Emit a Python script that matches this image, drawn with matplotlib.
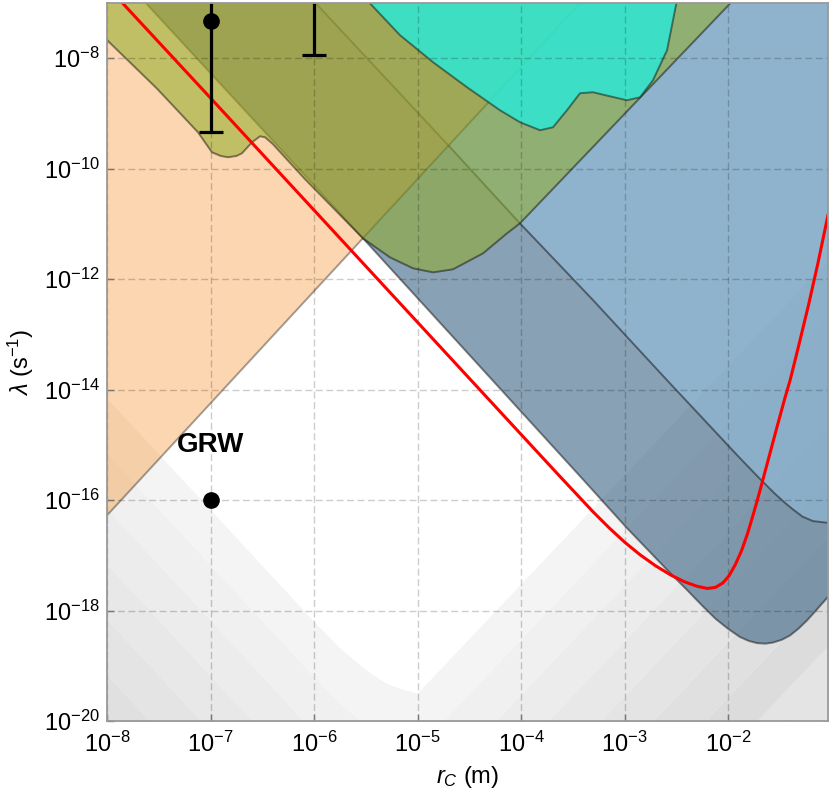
import numpy as np
import matplotlib
matplotlib.use("Agg")
import matplotlib.pyplot as plt
from matplotlib.ticker import FixedLocator, FixedFormatter, NullLocator

plt.rcParams['font.family'] = ['Liberation Sans', 'DejaVu Sans']
plt.rcParams['mathtext.fontset'] = 'custom'
plt.rcParams['mathtext.rm'] = 'Liberation Sans'
plt.rcParams['mathtext.it'] = 'Liberation Sans:italic'
plt.rcParams['mathtext.bf'] = 'Liberation Sans:bold'

# ---------------- data (log10 values) ----------------
x_tick_exp = [-8, -7, -6, -5, -4, -3, -2]
y_tick_exp = [-20, -18, -16, -14, -12, -10, -8]

# theoretical lower bound (grey, striped)
lower_log_r = [-8.05, -7.459, -6.01, -5.75, -5.488, -5.30, -5.169, -5.005, -1.0]
lower_log_lam = [-14.06, -15.25, -18.18, -18.68, -19.09, -19.32, -19.41, -19.50, -11.58]
band_shifts = [0, 1, 2, 3, 4, 5, 6, 7, 30]
band_grays = [0.957, 0.941, 0.925, 0.909, 0.893, 0.877, 0.861, 0.895]

# X-ray bound (orange)
xray_log_r = [-8.1, -3.3]
xray_log_lam = [-16.48, -6.74]

# LISA Pathfinder-like bound (dark blue-grey)
lisa_log_r = [-7.872, -5.527, -3.40, -2.98, -2.56, -2.40, -2.24, -2.12, -2.00, -1.884,
              -1.80, -1.72, -1.64, -1.565, -1.48, -1.40, -1.32, -1.237, -1.15, -1.0]
lisa_log_lam = [-6.50, -11.26, -15.63, -16.50, -17.32, -17.62, -17.93, -18.15, -18.33, -18.48,
                -18.55, -18.59, -18.60, -18.58, -18.53, -18.45, -18.33, -18.18, -18.00, -17.68]

# light blue bound
blue_log_r = [-6.10, -4.686, -4.01, -3.304, -2.589, -1.90, -1.70, -1.55, -1.45,
              -1.372, -1.28, -1.18, -1.0]
blue_log_lam = [-6.77, -9.61, -10.99, -12.38, -13.83, -15.21, -15.60, -15.88, -16.05,
                -16.17, -16.30, -16.38, -16.42]

# olive / green bound
green_log_r = [-8.05, -7.517, -7.121, -6.986, -6.90, -6.831, -6.75, -6.696, -6.599,
               -6.522, -6.473, -6.40, -6.087, -5.527, -5.266, -5.043, -4.850, -4.657,
               -4.367, -4.135, -4.010, -1.72]
green_log_lam = [-7.58, -8.55, -9.341, -9.703, -9.77, -9.793, -9.77, -9.721, -9.522,
                 -9.413, -9.431, -9.55, -10.19, -11.261, -11.605, -11.804, -11.877,
                 -11.822, -11.533, -11.170, -10.989, -6.50]

# turquoise bound
turq_log_r = [-5.56, -5.488, -5.169, -4.850, -4.522, -4.203, -4.010, -3.816, -3.691,
              -3.556, -3.430, -3.304, -3.14, -2.976, -2.850, -2.725, -2.589, -2.493, -2.47]
turq_log_lam = [-6.82, -6.949, -7.583, -8.072, -8.525, -8.942, -9.159, -9.304, -9.250,
                -8.942, -8.634, -8.616, -8.69, -8.761, -8.707, -8.399, -7.855, -6.949, -6.80]

# red curve
red_log_r = [-7.95, -7.0, -6.0, -5.0, -4.0, -3.62, -3.30, -3.15, -3.00, -2.85, -2.70,
             -2.55, -2.42, -2.30, -2.20, -2.12, -2.05, -1.99, -1.93, -1.87, -1.81,
             -1.75, -1.69, -1.62, -1.53, -1.45, -1.40, -1.31, -1.22, -1.13, -1.034]
red_log_lam = [-6.80, -8.72, -10.75, -12.78, -14.81, -15.58, -16.22, -16.50, -16.76,
               -16.99, -17.19, -17.36, -17.48, -17.56, -17.60, -17.58, -17.50, -17.37,
               -17.17, -16.92, -16.60, -16.22, -15.82, -15.33, -14.70, -14.15, -13.83,
               -13.15, -12.45, -11.70, -10.84]

# points with error bars (decades)
adler_r = [1e-7, 1e-6]
adler_log_lam = [-7.33, -5.95]
adler_err_dec = [2.0, 2.0]

grw_r = [1e-7]
grw_lam = [1e-16]

# ---------------- figure ----------------
W, H = 830, 798
fig = plt.figure(figsize=(W / 100, H / 100), dpi=100)
ax = fig.add_axes([107 / W, 77 / H, 721 / W, 718 / H])
ax.set_xscale('log')
ax.set_yscale('log')
ax.set_xlim(1e-8, 10 ** -1.034)
ax.set_ylim(1e-20, 1e-7)

TOP = -5.5


def arr(a):
    return 10.0 ** np.asarray(a, dtype=float)


def region_above(lr, ll, color, alpha, z, edge_alpha=0.45):
    xs = list(lr) + [lr[-1], lr[0]]
    ys = list(ll) + [TOP, TOP]
    ax.fill(arr(xs), arr(ys), facecolor=color, alpha=alpha, lw=0, zorder=z)
    ax.plot(arr(lr), arr(ll), color='black', alpha=edge_alpha, lw=1.4, zorder=z + 0.01,
            solid_joinstyle='round')


# grey striped lower bound
L = np.asarray(lower_log_lam)
for k in range(len(band_grays)):
    top = arr(L - band_shifts[k])
    bot = arr(L - band_shifts[k + 1])
    ax.fill_between(arr(lower_log_r), bot, top, color=str(band_grays[k]), lw=0, zorder=0.2)

region_above(lisa_log_r, lisa_log_lam, (58 / 255, 98 / 255, 130 / 255), 0.6, 0.3)
region_above(blue_log_r, blue_log_lam, (149 / 255, 197 / 255, 228 / 255), 0.5, 0.4)
region_above(xray_log_r, xray_log_lam, (248 / 255, 133 / 255, 15 / 255), 0.33, 0.5, edge_alpha=0.35)
region_above(green_log_r, green_log_lam, (145 / 255, 173 / 255, 45 / 255), 0.56, 0.6)
region_above(turq_log_r, turq_log_lam, (45 / 255, 232 / 255, 214 / 255), 0.85, 0.7)

# red curve
ax.plot(arr(red_log_r), arr(red_log_lam), color='#ff0000', lw=2.2, zorder=3,
        solid_joinstyle='round')

# error bars
ay = arr(adler_log_lam)
lo = ay - arr(np.asarray(adler_log_lam) - np.asarray(adler_err_dec))
hi = arr(np.asarray(adler_log_lam) + np.asarray(adler_err_dec)) - ay
ax.errorbar(adler_r, ay, yerr=[lo, hi], fmt='o', color='black', ms=11,
            elinewidth=2.3, capsize=8.3, capthick=2.3, zorder=4, clip_on=True)

ax.plot(grw_r, grw_lam, 'o', color='black', ms=11, zorder=4)
ax.text(1e-7, 10 ** -15.0, 'GRW', fontsize=20, fontweight='bold', ha='center',
        va='center', zorder=5)

# grid / ticks
ax.xaxis.set_major_locator(FixedLocator([10.0 ** e for e in x_tick_exp]))
ax.xaxis.set_major_formatter(FixedFormatter([r'$10^{%d}$' % e for e in x_tick_exp]))
ax.yaxis.set_major_locator(FixedLocator([10.0 ** e for e in y_tick_exp]))
ax.yaxis.set_major_formatter(FixedFormatter([r'$10^{%d}$' % e for e in y_tick_exp]))
ax.xaxis.set_minor_locator(NullLocator())
ax.yaxis.set_minor_locator(NullLocator())
ax.set_axisbelow(False)
ax.grid(True, which='major', color='black', alpha=0.2, lw=1.0, ls=(0, (5, 2.5)))
ax.tick_params(direction='in', length=5, width=1, color='#777777', labelsize=17)
ax.tick_params(axis='x', pad=8)
ax.tick_params(axis='y', pad=5)

for s in ax.spines.values():
    s.set_color('#999999')
    s.set_linewidth(1.3)
    s.set_zorder(6)

ax.set_xlabel(r'$r_C$ (m)', fontsize=17, labelpad=5)
ax.set_ylabel(r'$\lambda$ (s$^{-1}$)', fontsize=17, labelpad=6)

fig.savefig('out.png', dpi=100)
